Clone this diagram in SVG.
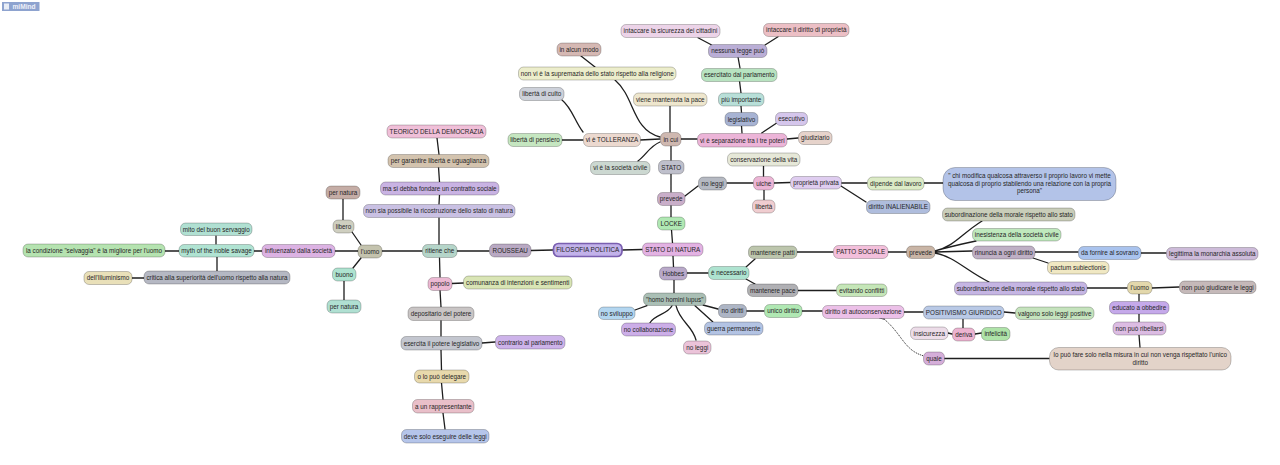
<svg xmlns="http://www.w3.org/2000/svg" width="1280" height="465" viewBox="0 0 1280 465">
<defs>
<marker id="arr" markerWidth="6" markerHeight="6" refX="1" refY="3" orient="auto-start-reverse" markerUnits="userSpaceOnUse"><path d="M6,0.5 L0.5,3 L6,5.5" fill="none" stroke="#222" stroke-width="0.8"/></marker>
</defs>
<style>
text{font-family:"Liberation Sans",Arial,sans-serif;font-size:6.3px;fill:#262626;text-anchor:middle}
rect{stroke:rgba(0,0,0,.22);stroke-width:1}
#connectors path{fill:none;stroke:#1e1e1e;stroke-width:1.3;stroke-linecap:round}
#connectors path.dot{stroke:#222;stroke-width:.9;stroke-linecap:butt;stroke-dasharray:1.2 .9}
</style>
<rect x="0" y="0" width="1280" height="465" fill="#fff" style="stroke:none"/>
<g id="logo"><rect x="2" y="2" width="37.5" height="9" fill="#8ea3cf" style="stroke:none"/><rect x="4" y="3.5" width="5" height="6" fill="#e8edf6" style="stroke:none"/><text x="24" y="9.2" style="fill:#eef1f8;font-size:6.6px;font-weight:bold">miMind</text></g>
<g id="connectors">
<path d="M216,236L216,244M165,251L179,251M254,251L262,251M217,257L217,271M132,278L144,278M335,251L358,251M343,199L343,220M352,232L361,245M361,258L353,268M344,281L344,300M382,251L422,251"/>
<path d="M437,138L439,154.5M438.5,167L439.5,182M439.5,195L439,204M439,218L439,244.5M457,251L489,251M531,250.5L553,250M622,250L642,249.5M439.500,258L440,277M452,283.500L463.500,283M440,290L441,307M441,320L441,336M482,343L495,342M441,350L441.500,370M441.500,383L443,399.500M443,413L445,429"/>
<path d="M581,56L595,67M615,80C635,97 632,130 660,137M562,100C572,108 575,122 583,132M640,140L660,139M562,140L583,140M638,161C646,155 650,146 660,142M670,106L670,132M681,139L697,139M671,146L671,160.500M671,174L671,192M685,196L698,186M671,205.500L671,217M671.500,230L672.500,243M673,256L673.500,267M674,280L674,293M687,273L708,273"/>
<path d="M746,267L755,259M746,279L755,284M797,252L833,252M888,252L906.500,252M798,290.500L836,290.500M698,37.700L711.700,45M778,36.700L765,45M738,57L740,68M739.500,81L741,93M741,106L741.500,112.500M741.500,126L742,133M761.700,133L776.700,123M787,139L798,138M727,183L753,183M763.500,166L763.500,176.500M764,190L764,200M774,183L790,182.500M841,183L867,183M841,186L866,202M924,183L943,183"/>
<path d="M935,251C955,246 960,235 982,221M935,251C950,247 960,244 976,241M935,252L972,251M935,253C955,257 965,270 989,282M1035,252L1078,252M1141,253L1166,253M1033,258L1048,263M1087,288L1127,288M1152,288L1179,287M1139,294L1139,301M1139,314L1139,322M1139,335L1140,347.500M944,358.500L1049,358.500M904,312L923,312M1004,312L1015,313M963,319L963,328M948,333L952,334M975,334L981.500,333M802,311L822,311M746.500,311L764,311"/>
<path d="M703,305L718,309M647,305.700L635,310M672,305.700C668,314 654,315 650,322.700M676,305.700C680,322 692,325 696,340M695,305.700L712.700,321.700"/>
<path class="dot" d="M923,355.700C904,350 902,334 884,319" marker-end="url(#arr)"/>
</g>
<g id="n1"><rect x="180.500" y="223" width="71.500" height="12.500" rx="5" fill="#b0e0d2"/><text x="216.250" y="231.500">mito del buon servaggio</text></g>
<g id="n2"><rect x="179" y="244.500" width="75" height="12.500" rx="5" fill="#b0e3d2"/><text x="216.500" y="253">myth of the noble savage</text></g>
<g id="n3"><rect x="23" y="244" width="142" height="13" rx="5" fill="#b5e3b0"/><text x="94" y="252.800">la condizione "selvaggia" è la migliore per l'uomo</text></g>
<g id="n4"><rect x="262" y="244.500" width="73" height="13" rx="5" fill="#dcb2e3"/><text x="298.500" y="253.300">influenzato dalla società</text></g>
<g id="n5"><rect x="144" y="271" width="146" height="13" rx="5" fill="#b5b8c3"/><text x="217" y="279.800">critica alla superiorità dell'uomo rispetto alla natura</text></g>
<g id="n6"><rect x="84" y="271.500" width="48" height="13" rx="5" fill="#e9e0b9"/><text x="108" y="280.300">dell'Illuminismo</text></g>
<g id="n7"><rect x="387" y="125" width="99" height="13" rx="5" fill="#f0bfd8"/><text x="436.500" y="133.800">TEORICO DELLA DEMOCRAZIA</text></g>
<g id="n8"><rect x="388" y="154.500" width="101" height="13" rx="5" fill="#d3c3ae"/><text x="438.500" y="163.300">per garantire libertà e uguaglianza</text></g>
<g id="n9"><rect x="380.500" y="182" width="118.500" height="13" rx="5" fill="#c9b3e3"/><text x="439.750" y="190.800">ma si debba fondare un contratto sociale</text></g>
<g id="n10"><rect x="363.500" y="204.500" width="151.500" height="13" rx="5" fill="#c9c0e3"/><text x="439.250" y="213.300">non sia possibile la ricostruzione dello stato di natura</text></g>
<g id="n11"><rect x="326" y="186" width="34" height="13" rx="5" fill="#c5ada6"/><text x="343" y="194.800">per natura</text></g>
<g id="n12"><rect x="333" y="220" width="21" height="13" rx="5" fill="#cfcfc0"/><text x="343.500" y="228.800">libero</text></g>
<g id="n13"><rect x="358" y="245" width="24" height="13" rx="5" fill="#c4c3ae"/><text x="370" y="253.800">l'uomo</text></g>
<g id="n14"><rect x="422.500" y="244.500" width="34.500" height="13" rx="5" fill="#b5d5c9"/><text x="439.750" y="253.300">ritiene che</text></g>
<g id="n15"><rect x="489.500" y="244" width="41.500" height="13" rx="5" fill="#b9a9c3"/><text x="510.250" y="252.800">ROUSSEAU</text></g>
<g id="n16"><rect x="553.500" y="243.500" width="68.500" height="13" rx="5" fill="#c2b2ea" style="stroke:#7a5fb0;stroke-width:1.7"/><text x="587.750" y="252.300">FILOSOFIA POLITICA</text></g>
<g id="n17"><rect x="332.500" y="268" width="23.500" height="13" rx="5" fill="#aee3d0"/><text x="344.250" y="276.800">buono</text></g>
<g id="n18"><rect x="327" y="300" width="34" height="13" rx="5" fill="#b0e0d2"/><text x="344" y="308.800">per natura</text></g>
<g id="n19"><rect x="428" y="277.500" width="24" height="13" rx="5" fill="#ecb9d3"/><text x="440" y="286.300">popolo</text></g>
<g id="n20"><rect x="463.500" y="276" width="108.500" height="13" rx="5" fill="#d9e5b5"/><text x="517.750" y="284.800">comunanza di intenzioni e sentimenti</text></g>
<g id="n21"><rect x="508" y="133.500" width="54" height="13" rx="5" fill="#c5e6c0"/><text x="535" y="142.300">libertà di pensiero</text></g>
<g id="n22"><rect x="583.500" y="133.500" width="57" height="13" rx="5" fill="#ecd9cf"/><text x="612" y="142.300">vi è TOLLERANZA</text></g>
<g id="n23"><rect x="590.500" y="161.500" width="59.500" height="13" rx="5" fill="#ccd8d1"/><text x="620.250" y="170.300">vi è la società civile</text></g>
<g id="n24"><rect x="408" y="307" width="66" height="13.500" rx="5" fill="#c9c5c5"/><text x="441" y="316">depositario del potere</text></g>
<g id="n25"><rect x="401" y="336.500" width="81" height="13.500" rx="5" fill="#c3c6cf"/><text x="441.500" y="345.500">esercita il potere legislativo</text></g>
<g id="n26"><rect x="495.500" y="335.500" width="69.500" height="13.500" rx="5" fill="#cdb3ea"/><text x="530.250" y="344.500">contrario al parlamento</text></g>
<g id="n27"><rect x="414.500" y="370" width="54.500" height="13" rx="5" fill="#e8d9ac"/><text x="441.750" y="378.800">o lo può delegare</text></g>
<g id="n28"><rect x="412.500" y="399.500" width="61.500" height="13.500" rx="5" fill="#e9bfc9"/><text x="443.250" y="408.500">a un rappresentante</text></g>
<g id="n29"><rect x="401.500" y="429.500" width="87.500" height="13.500" rx="5" fill="#b5c5ea"/><text x="445.250" y="438.500">deve solo eseguire delle leggi</text></g>
<g id="n30"><rect x="621" y="24.500" width="99" height="13" rx="5" fill="#ecd3e8"/><text x="670.500" y="33.300">intaccare la sicurezza dei cittadini</text></g>
<g id="n31"><rect x="763.500" y="23.500" width="85.500" height="13" rx="5" fill="#ecbfc5"/><text x="806.250" y="32.300">intaccare il diritto di proprietà</text></g>
<g id="n32"><rect x="557" y="43" width="44" height="13" rx="5" fill="#d5b8b3"/><text x="579" y="51.800">in alcun modo</text></g>
<g id="n33"><rect x="708.500" y="44.500" width="58.500" height="13" rx="5" fill="#baaed6"/><text x="737.750" y="53.300">nessuna legge può</text></g>
<g id="n34"><rect x="518.500" y="67" width="157.500" height="13" rx="5" fill="#ecedcb"/><text x="597.250" y="75.800">non vi è la supremazia dello stato rispetto alla religione</text></g>
<g id="n35"><rect x="701.500" y="68.500" width="75.500" height="13" rx="5" fill="#b8e3c0"/><text x="739.250" y="77.300">esercitato dal parlamento</text></g>
<g id="n36"><rect x="519.500" y="87.500" width="44.500" height="13" rx="5" fill="#cdd1da"/><text x="541.750" y="96.300">libertà di culto</text></g>
<g id="n37"><rect x="633.500" y="93" width="73.500" height="13" rx="5" fill="#eee6cd"/><text x="670.250" y="101.800">viene mantenuta la pace</text></g>
<g id="n38"><rect x="718.500" y="93" width="45.500" height="13" rx="5" fill="#b8dfd8"/><text x="741.250" y="101.800">più importante</text></g>
<g id="n39"><rect x="725" y="112.500" width="33" height="13.500" rx="5" fill="#a7b3d3"/><text x="741.500" y="121.500">legislativo</text></g>
<g id="n40"><rect x="775.500" y="112.500" width="32" height="13" rx="5" fill="#d5c6ec"/><text x="791.500" y="121.300">esecutivo</text></g>
<g id="n41"><rect x="660.500" y="132.500" width="20.500" height="13.500" rx="5" fill="#cfb8b0"/><text x="670.750" y="141.500">in cui</text></g>
<g id="n42"><rect x="697.500" y="133.500" width="89.500" height="13.500" rx="5" fill="#ecb4d8"/><text x="742.250" y="142.500">vi è separazione tra i tre poteri</text></g>
<g id="n43"><rect x="798.500" y="131.500" width="33.500" height="13" rx="5" fill="#e6d3cb"/><text x="815.250" y="140.300">giudiziario</text></g>
<g id="n44"><rect x="658.500" y="160.500" width="25.500" height="13.500" rx="5" fill="#bfc0cc"/><text x="671.250" y="169.500">STATO</text></g>
<g id="n45"><rect x="727.500" y="153" width="72.500" height="13" rx="5" fill="#e6e8d8"/><text x="763.750" y="161.800">conservazione della vita</text></g>
<g id="n46"><rect x="698.500" y="177" width="28" height="13" rx="5" fill="#b5b9c2"/><text x="712.500" y="185.800">no leggi</text></g>
<g id="n47"><rect x="753.500" y="176.500" width="20.500" height="13.500" rx="5" fill="#ecb5d5"/><text x="763.750" y="185.500">uiche</text></g>
<g id="n48"><rect x="790.500" y="176.500" width="51" height="12.500" rx="5" fill="#dfcdf0"/><text x="816" y="185">proprietà privata</text></g>
<g id="n49"><rect x="867.500" y="177" width="56.500" height="13" rx="5" fill="#dcebc6"/><text x="895.750" y="185.800">dipende dal lavoro</text></g>
<g id="n50"><rect x="866.500" y="200.500" width="63.500" height="13" rx="5" fill="#afbddd"/><text x="898.250" y="209.300">diritto INALIENABILE</text></g>
<g id="n51"><rect x="752.500" y="200" width="22.500" height="13" rx="5" fill="#f0cdd0"/><text x="763.750" y="208.800">libertà</text></g>
<g id="n52"><rect x="657.500" y="192.500" width="27.500" height="13" rx="5" fill="#c9aec9"/><text x="671.250" y="201.300">prevede</text></g>
<g id="n53"><rect x="657.500" y="217" width="27.500" height="13" rx="5" fill="#b0e8b3"/><text x="671.250" y="225.800">LOCKE</text></g>
<g id="n54"><rect x="642.500" y="243" width="60.500" height="13" rx="5" fill="#e3b2e3"/><text x="672.750" y="251.800">STATO DI NATURA</text></g>
<g id="n55"><rect x="748.500" y="246" width="48.500" height="12.500" rx="5" fill="#bdc6ad"/><text x="772.750" y="254.500">mantenere patti</text></g>
<g id="n56"><rect x="833.500" y="245.500" width="54.500" height="13" rx="5" fill="#f3bfdb"/><text x="860.750" y="254.300">PATTO SOCIALE</text></g>
<g id="n57"><rect x="906.500" y="246" width="28.500" height="12.500" rx="5" fill="#c9b5a6"/><text x="920.750" y="254.500">prevede</text></g>
<g id="n58"><rect x="659.500" y="267" width="27.500" height="13" rx="5" fill="#b9a9c9"/><text x="673.250" y="275.800">Hobbes</text></g>
<g id="n59"><rect x="708.500" y="266.500" width="40.500" height="13" rx="5" fill="#aee3d0"/><text x="728.750" y="275.300">è necessario</text></g>
<g id="n60"><rect x="747.500" y="284" width="50.500" height="12.500" rx="5" fill="#b0b0b4"/><text x="772.750" y="292.500">mantenere pace</text></g>
<g id="n61"><rect x="836.500" y="284" width="50.500" height="12.500" rx="5" fill="#c5e6b8"/><text x="861.750" y="292.500">evitando conflitti</text></g>
<g id="n62"><rect x="643.500" y="293" width="62.500" height="12.500" rx="5" fill="#aabfb5"/><text x="674.750" y="301.500">"homo homini lupus"</text></g>
<g id="n63"><rect x="598.500" y="307" width="36.500" height="12.500" rx="5" fill="#b3d6f0"/><text x="616.750" y="315.500">no sviluppo</text></g>
<g id="n64"><rect x="621.500" y="323" width="54" height="13" rx="5" fill="#ccaee8"/><text x="648.500" y="331.800">no collaborazione</text></g>
<g id="n65"><rect x="683.500" y="341" width="27.500" height="13" rx="5" fill="#ebc3d9"/><text x="697.250" y="349.800">no leggi</text></g>
<g id="n66"><rect x="704.500" y="322" width="58.500" height="13" rx="5" fill="#b3c3e3"/><text x="733.750" y="330.800">guerra permanente</text></g>
<g id="n67"><rect x="718.500" y="304.500" width="28" height="13" rx="5" fill="#adb5c5"/><text x="732.500" y="313.300">no diritti</text></g>
<g id="n68"><rect x="764.500" y="304.500" width="37.500" height="13" rx="5" fill="#b0e8b3"/><text x="783.250" y="313.300">unico diritto</text></g>
<g id="n69"><rect x="822.500" y="305.500" width="81.500" height="13" rx="5" fill="#ecc0e8"/><text x="863.250" y="314.300">diritto di autoconservazione</text></g>
<g id="n70"><rect x="923.500" y="306" width="80.500" height="13" rx="5" fill="#b9c9e6"/><text x="963.750" y="314.800">POSITIVISMO GIURIDICO</text></g>
<g id="n71"><rect x="1015.500" y="307" width="78.500" height="12.500" rx="5" fill="#c5e3bd"/><text x="1054.750" y="315.500">valgono solo leggi positive</text></g>
<g id="n72"><rect x="910.500" y="327" width="37.500" height="12.500" rx="5" fill="#ecdce8"/><text x="929.250" y="335.500">insicurezza</text></g>
<g id="n73"><rect x="952.500" y="328" width="22.500" height="13" rx="5" fill="#ecb3d0"/><text x="963.750" y="336.800">deriva</text></g>
<g id="n74"><rect x="981.500" y="327.500" width="28.500" height="13" rx="5" fill="#aee3a8"/><text x="995.750" y="336.300">infelicità</text></g>
<g id="n75"><rect x="923.500" y="352" width="21" height="13" rx="5" fill="#d5aed9"/><text x="934" y="360.800">quale</text></g>
<g id="n76"><rect x="1127.500" y="281.500" width="24.500" height="12.500" rx="5" fill="#e3d8ac"/><text x="1139.750" y="290">l'uomo</text></g>
<g id="n77"><rect x="1179.500" y="281" width="76.500" height="12.500" rx="5" fill="#c5b9b9"/><text x="1217.750" y="289.500">non può giudicare le leggi</text></g>
<g id="n78"><rect x="954.500" y="282" width="132.500" height="13" rx="5" fill="#c5b5e3"/><text x="1020.750" y="290.800">subordinazione della morale rispetto allo stato</text></g>
<g id="n79"><rect x="1109.500" y="301.500" width="59.500" height="12.500" rx="5" fill="#c5a9ea"/><text x="1139.250" y="310">educato a obbedire</text></g>
<g id="n80"><rect x="1113" y="322" width="53" height="13" rx="5" fill="#dcbce3"/><text x="1139.500" y="330.800">non può ribellarsi</text></g>
<g id="n81"><rect x="1049.500" y="347.500" width="181.500" height="22.500" rx="9" fill="#e3d3c9"/><text x="1140.250" y="356.800">lo può fare solo nella misura in cui non venga rispettato l'unico<tspan x="1140.250" dy="8">diritto</tspan></text></g>
<g id="n82"><rect x="943" y="167.500" width="173" height="33" rx="12" fill="#b3c3e8"/><text x="1029.500" y="178">" chi modifica qualcosa attraverso il proprio lavoro vi mette<tspan x="1029.500" dy="7.500">qualcosa di proprio stabilendo una relazione con la propria</tspan><tspan x="1029.500" dy="7.500">persona"</tspan></text></g>
<g id="n83"><rect x="942.500" y="208" width="132.500" height="13" rx="5" fill="#c9cdb9"/><text x="1008.750" y="216.800">subordinazione della morale rispetto allo stato</text></g>
<g id="n84"><rect x="972.500" y="228.500" width="88.500" height="12.500" rx="5" fill="#bfe8bd"/><text x="1016.750" y="237">inesistenza della società civile</text></g>
<g id="n85"><rect x="972.500" y="246" width="62.500" height="13" rx="5" fill="#bfb0c5"/><text x="1003.750" y="254.800">rinuncia a ogni diritto</text></g>
<g id="n86"><rect x="1078.500" y="246.500" width="62.500" height="13" rx="5" fill="#a9c3ee"/><text x="1109.750" y="255.300">da fornire al sovrano</text></g>
<g id="n87"><rect x="1166.500" y="247.500" width="91.500" height="12.500" rx="5" fill="#cdbbd9"/><text x="1212.250" y="256">legittima la monarchia assoluta</text></g>
<g id="n88"><rect x="1047.500" y="261.500" width="61.500" height="12.500" rx="5" fill="#f0e8c3"/><text x="1078.250" y="270">pactum subiectionis</text></g>
</svg>
